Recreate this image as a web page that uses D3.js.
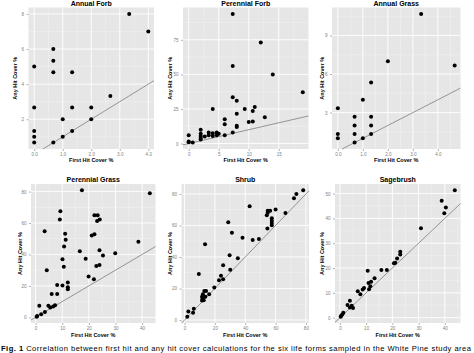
<!DOCTYPE html>
<html><head><meta charset="utf-8">
<script src="https://cdn.jsdelivr.net/npm/d3@7"></script>
<style>
body{margin:0;background:#fff;}
svg{display:block;font-family:"Liberation Sans",Arial,Helvetica,sans-serif;}
</style>
</head><body>
<svg id="c" width="474" height="353"></svg>
<script>
// ---------- DATA ----------
const panelTitles = ["Annual Forb","Perennial Forb","Annual Grass","Perennial Grass","Shrub","Sagebrush"];
const xTitle = "First Hit Cover %";
const yTitle = "Any Hit Cover %";
const captionLead = "Fig. 1";
const caption = " Correlation between first hit and any hit cover calculations for the six life forms sampled in the White Pine study area";

const annualForbX = [3.33,4,0.67,0.67,0.67,1.33,0,2.67,0,1.33,2,1,2,0,1.33,0,1,0,0.67];
const annualForbY = [8,7,6,5.33,4.67,4.67,5,3.33,2.67,2.67,2.67,2,2,1.33,1.33,1,1,0.67,0.67];
const annualForbXTicks = [0,1,2,3,4];
const annualForbYTicks = [2,4,6,8];

const perennialForbX = [7.33,12,7.33,14,19,7.33,8,4,9.33,11,10.67,8,6,6,8,8,12.67,10,10.67,7.33,6,2,2,2,2,2,2.67,3.33,3.33,4,4,4.67,4.67,5,0,0,0.67,0];
const perennialForbY = [93.7,73,56,50,37,33.5,31,25,25,26.5,23.5,21.5,17.5,14,12.8,12,19,15.5,16,8,6,10,7,5.5,4,3,5,6,8,7.5,5.5,8,6,7,6,1.5,0.7,1];
const perennialForbXTicks = [0,5,10,15];
const perennialForbYTicks = [0,25,50,75];

const annualGrassX = [3.33,2,4.67,1.33,1,0,0.67,1.33,0.67,1.33,0,0.67,1.33,0,1,0.67];
const annualGrassY = [10.67,7,6.67,5.33,4,3.33,2.67,2.67,2,2,1.33,1.33,1.33,1,1,0.67];
const annualGrassXTicks = [0,1,2,3,4];
const annualGrassYTicks = [3,6,9];

const perennialGrassX = [17.4,42.9,9.3,9.1,22.1,23.3,24.1,23.1,3.4,11.1,11.3,21.1,22.1,10.7,16.6,24,38.6,29.9,25.3,10.1,18.8,10.6,24,22.8,4.2,19.9,21.9,8.1,10.1,12.1,12.1,12.1,6.05,8.1,1.4,4.8,5.5,6.6,7.3,3.5,2.1,0.6,0.4];
const perennialGrassY = [80.8,79,67.5,62.3,65,65,62.3,61.2,54.8,53.1,49.4,52.1,52.9,45,42.1,42.7,48.1,40.8,39.4,36.9,37.3,32.1,33.3,32.7,30,26,24.2,20.6,20.2,22.1,19.2,17.9,14.8,14.8,7.3,7.3,6.25,6.9,7.7,3.3,1.9,0.8,0.4];
const perennialGrassXTicks = [0,10,20,30,40];
const perennialGrassYTicks = [0,20,40,60,80];

const shrubX = [78.2,73.7,72.1,66.5,60,56.4,54.8,54.8,54.2,57.5,57.5,57.5,57.5,54.6,42.9,49,44.9,38.2,28.8,31.2,13.5,29.7,35.1,25.4,30.1,24,22.7,25.4,19.6,9.4,16.2,14.2,13,12.1,11.5,11.9,11.5,12.6,13.7,5.6,6.1,2.5,1.8];
const shrubY = [82.3,80,77.3,67.9,70.2,69.4,69.4,68.1,66.4,64.5,63,61.6,60.1,58,72.2,51.4,50.7,52.2,62,55.3,48,41.1,39.2,34.7,31.9,28,25.3,25.9,20.7,29.2,16.3,18.4,18.4,16.3,14.8,13.8,12.3,12.5,14.8,4.6,7.1,5.4,2.1];
const shrubXTicks = [0,20,40,60,80];
const shrubYTicks = [0,20,40,60,80];

const sagebrushX = [43.8,38.8,40.4,39.8,30.9,23,23,21.8,21.1,20.6,17.9,15.8,10.6,13.2,11.9,10.9,11.6,11.1,9.2,8.7,6.8,7.8,3.8,2.9,4.5,3.8,5,1.3,0.9,0.5,0.3];
const sagebrushY = [51.3,47.1,44.4,42.1,36,26.6,25.4,23.8,22.1,21.9,19.2,19.2,18.9,15.9,14.5,14,12.7,11.5,12,11.3,10.6,9.4,6.8,5.1,4.8,4.1,3.9,2,1.3,0.8,0.4];
const sagebrushXTicks = [0,10,20,30,40];
const sagebrushYTicks = [0,10,20,30,40,50];

// ---------- LAYOUT ----------
const panels = [
  {x: annualForbX, y: annualForbY, xt: annualForbXTicks, yt: annualForbYTicks},
  {x: perennialForbX, y: perennialForbY, xt: perennialForbXTicks, yt: perennialForbYTicks},
  {x: annualGrassX, y: annualGrassY, xt: annualGrassXTicks, yt: annualGrassYTicks},
  {x: perennialGrassX, y: perennialGrassY, xt: perennialGrassXTicks, yt: perennialGrassYTicks},
  {x: shrubX, y: shrubY, xt: shrubXTicks, yt: shrubYTicks},
  {x: sagebrushX, y: sagebrushY, xt: sagebrushXTicks, yt: sagebrushYTicks}
];
const boxes = [
  {l:28.5, r:154,   t:7.5, b:149, titleY:6,     xlabY:161.5, ylabX:15.3},
  {l:183,  r:308.5, t:7.5, b:149, titleY:6,     xlabY:161.5, ylabX:170.3},
  {l:332,  r:460.5, t:7.5, b:149, titleY:6,     xlabY:161.5, ylabX:322},
  {l:31,   r:155.5, t:184, b:323, titleY:181.5, xlabY:337,   ylabX:20},
  {l:181.5,r:309,   t:184, b:323, titleY:181.5, xlabY:337,   ylabX:170},
  {l:335,  r:460.5, t:184, b:323, titleY:181.5, xlabY:337,   ylabX:322}
];

const svg = d3.select("#c");
const expand = arr => { const [a,c] = d3.extent(arr); const d = (c-a)*0.05; return [a-d, c+d]; };
const minorOf = (ticks, dom) => {
  const step = ticks[1]-ticks[0];
  const out = [];
  for (let v = ticks[0]-step/2; v <= ticks[ticks.length-1]+step; v += step) {
    if (v >= dom[0] && v <= dom[1]) out.push(v);
  }
  return out;
};

panels.forEach((p, i) => {
  const b = boxes[i];
  const xd = expand(p.x), yd = expand(p.y);
  const xs = d3.scaleLinear().domain(xd).range([b.l, b.r]);
  const ys = d3.scaleLinear().domain(yd).range([b.b, b.t]);
  const g = svg.append("g");

  g.append("rect").attr("x", b.l).attr("y", b.t)
    .attr("width", b.r-b.l).attr("height", b.b-b.t).attr("fill", "#E6E6E6");

  g.selectAll(".mx").data(minorOf(p.xt, xd)).enter().append("line")
    .attr("x1", d=>xs(d)).attr("x2", d=>xs(d)).attr("y1", b.t).attr("y2", b.b)
    .attr("stroke", "#F2F2F2").attr("stroke-width", 0.5);
  g.selectAll(".my").data(minorOf(p.yt, yd)).enter().append("line")
    .attr("y1", d=>ys(d)).attr("y2", d=>ys(d)).attr("x1", b.l).attr("x2", b.r)
    .attr("stroke", "#F2F2F2").attr("stroke-width", 0.5);
  g.selectAll(".Mx").data(p.xt.filter(v=>v>=xd[0]&&v<=xd[1])).enter().append("line")
    .attr("x1", d=>xs(d)).attr("x2", d=>xs(d)).attr("y1", b.t).attr("y2", b.b)
    .attr("stroke", "#FFFFFF").attr("stroke-width", 0.9);
  g.selectAll(".My").data(p.yt.filter(v=>v>=yd[0]&&v<=yd[1])).enter().append("line")
    .attr("y1", d=>ys(d)).attr("y2", d=>ys(d)).attr("x1", b.l).attr("x2", b.r)
    .attr("stroke", "#FFFFFF").attr("stroke-width", 0.9);

  const lo = Math.max(xd[0], yd[0]), hi = Math.min(xd[1], yd[1]);
  g.append("line").attr("x1", xs(lo)).attr("y1", ys(lo)).attr("x2", xs(hi)).attr("y2", ys(hi))
    .attr("stroke", "#8A8A8A").attr("stroke-width", 0.9);

  g.selectAll("circle").data(p.x.map((v,k)=>[v, p.y[k]])).enter().append("circle")
    .attr("cx", d=>xs(d[0])).attr("cy", d=>ys(d[1])).attr("r", 2).attr("fill", "#000");

  const ax = g.append("g").attr("transform", `translate(0,${b.b})`)
    .call(d3.axisBottom(xs).tickValues(p.xt).tickSize(2).tickPadding(1.3));
  const ay = g.append("g").attr("transform", `translate(${b.l},0)`)
    .call(d3.axisLeft(ys).tickValues(p.yt).tickSize(2).tickPadding(2.5));
  [ax, ay].forEach(a => {
    a.select(".domain").remove();
    a.selectAll("line").attr("stroke", "#7F7F7F").attr("stroke-width", 0.6);
    a.selectAll("text").attr("fill", "#7F7F7F").style("font-size", "4.6px")
      .style("font-family", "'Liberation Sans',Arial,sans-serif");
  });

  g.append("text").attr("x", (b.l+b.r)/2).attr("y", b.titleY).attr("text-anchor", "middle")
    .style("font-size", "7px").style("font-weight", "bold").text(panelTitles[i]);
  g.append("text").attr("x", (b.l+b.r)/2).attr("y", b.xlabY).attr("text-anchor", "middle")
    .style("font-size", "5.5px").style("font-weight", "bold").text(xTitle);
  g.append("text").attr("transform", `translate(${b.ylabX},${(b.t+b.b)/2}) rotate(-90)`)
    .attr("text-anchor", "middle").attr("dominant-baseline", "central")
    .style("font-size", "5.5px").style("font-weight", "bold").text(yTitle);
});

// caption
const cap = svg.append("text").attr("x", 1).attr("y", 351.2)
  .attr("textLength", 470).attr("lengthAdjust", "spacing")
  .style("font-size", "7.6px").style("font-family", "'Liberation Sans',Arial,sans-serif");
cap.append("tspan").style("font-weight", "bold").text(captionLead);
cap.append("tspan").text(caption);
</script>
</body></html>
